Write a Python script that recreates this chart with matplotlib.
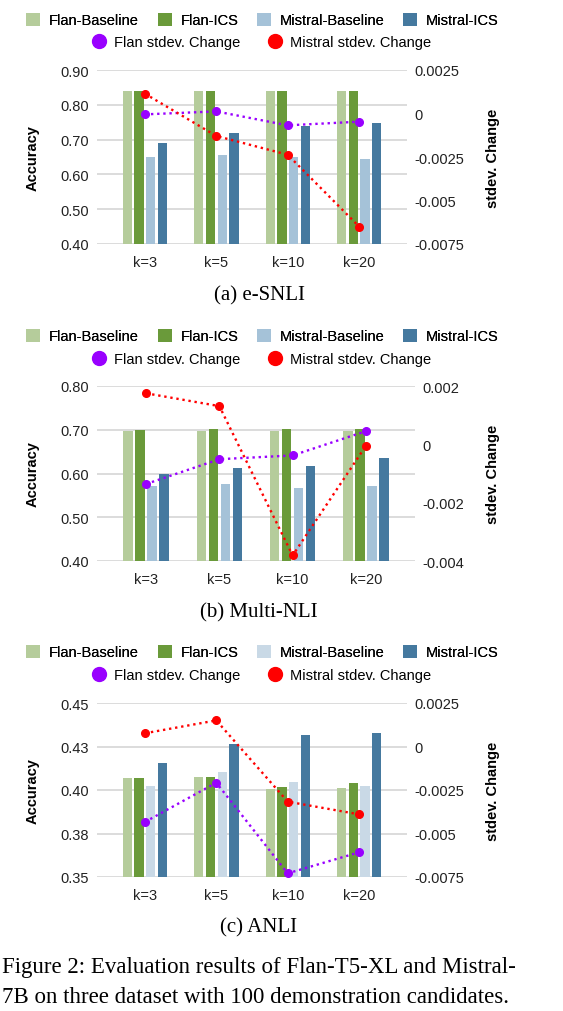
import matplotlib
matplotlib.use('Agg')
import matplotlib.pyplot as plt
from matplotlib.patches import Patch
from matplotlib.lines import Line2D
import numpy as np

plt.rcParams['font.family'] = ['Liberation Sans', 'DejaVu Sans']

# ---------------- data ----------------
ks = ['k=3', 'k=5', 'k=10', 'k=20']
series_names = ['Flan-Baseline', 'Flan-ICS', 'Mistral-Baseline', 'Mistral-ICS']
line_names = ['Flan stdev. Change', 'Mistral stdev. Change']

# (a) e-SNLI
snli_flan_base = [0.839, 0.839, 0.839, 0.839]
snli_flan_ics = [0.839, 0.839, 0.839, 0.839]
snli_mis_base = [0.651, 0.655, 0.651, 0.643]
snli_mis_ics = [0.690, 0.720, 0.738, 0.749]
snli_flan_sd = [-0.00005, 0.00012, -0.00068, -0.00047]
snli_mis_sd = [0.00114, -0.00129, -0.00237, -0.0065]
snli_left_ticks = [0.40, 0.50, 0.60, 0.70, 0.80, 0.90]
snli_left_labels = ['0.40', '0.50', '0.60', '0.70', '0.80', '0.90']
snli_right_ticks = [-0.0075, -0.005, -0.0025, 0, 0.0025]
snli_right_labels = ['-0.0075', '-0.005', '-0.0025', '0', '0.0025']

# (b) Multi-NLI
mnli_flan_base = [0.697, 0.697, 0.697, 0.697]
mnli_flan_ics = [0.700, 0.702, 0.702, 0.702]
mnli_mis_base = [0.572, 0.575, 0.567, 0.572]
mnli_mis_ics = [0.600, 0.612, 0.618, 0.635]
mnli_flan_sd = [-0.00136, -0.00051, -0.00038, 0.00045]
mnli_mis_sd = [0.00175, 0.00131, -0.00381, -0.00005]
mnli_left_ticks = [0.40, 0.50, 0.60, 0.70, 0.80]
mnli_left_labels = ['0.40', '0.50', '0.60', '0.70', '0.80']
mnli_right_ticks = [-0.004, -0.002, 0, 0.002]
mnli_right_labels = ['-0.004', '-0.002', '0', '0.002']

# (c) ANLI
anli_flan_base = [0.4067, 0.4075, 0.4004, 0.4010]
anli_flan_ics = [0.4067, 0.4075, 0.4017, 0.4038]
anli_mis_base = [0.4025, 0.4106, 0.4046, 0.4025]
anli_mis_ics = [0.4153, 0.4264, 0.4314, 0.4329]
anli_flan_sd = [-0.00434, -0.00208, -0.00729, -0.00608]
anli_mis_sd = [0.00076, 0.00150, -0.00317, -0.00390]
anli_left_ticks = [0.35, 0.375, 0.40, 0.425, 0.45]
anli_left_labels = ['0.35', '0.38', '0.40', '0.43', '0.45']
anli_right_ticks = [-0.0075, -0.005, -0.0025, 0, 0.0025]
anli_right_labels = ['-0.0075', '-0.005', '-0.0025', '0', '0.0025']

captions = ['(a) e-SNLI', '(b) Multi-NLI', '(c) ANLI']
fig_caption = ['Figure 2: Evaluation results of Flan-T5-XL and Mistral-',
               '7B on three dataset with 100 demonstration candidates.']

# ---------------- style ----------------
C_FB = '#b5cc9b'
C_FI = '#6a9a3a'
C_MB = '#a5c2d8'
C_MB_LIGHT = '#c9d9e6'
C_MI = '#45799f'
C_PURPLE = '#9900ff'
C_RED = '#ff0000'
GRID = '#d9d9d9'
FS = 10.5

W, H = 563, 1012
fig = plt.figure(figsize=(W / 100, H / 100), dpi=100)


def box(l, t, r, b):
    return [l / W, 1 - b / H, (r - l) / W, (b - t) / H]


def fx(px):
    return px / W


def fy(py):
    return 1 - py / H


def legend(row1_y, row2_y, mb_color):
    handles1 = [Patch(facecolor=c, edgecolor='none') for c in (C_FB, C_FI, mb_color, C_MI)]
    l1 = fig.legend(handles1, series_names, loc='center', bbox_to_anchor=(fx(262.5), fy(row1_y)),
                    ncol=4, frameon=False, fontsize=FS, handlelength=0.95, handleheight=1.0,
                    handletextpad=0.6, columnspacing=1.3, borderpad=0, borderaxespad=0)
    handles2 = [Line2D([], [], ls='none', marker='o', ms=10, color=c) for c in (C_PURPLE, C_RED)]
    l2 = fig.legend(handles2, line_names, loc='center', bbox_to_anchor=(fx(262), fy(row2_y)),
                    ncol=2, frameon=False, fontsize=FS, handlelength=0.9,
                    handletextpad=0.6, columnspacing=1.9, borderpad=0, borderaxespad=0)
    fig.add_artist(l1)


def panel(rect_px, fb, fi, mb, mi, fsd, msd, lt, ll, rt, rl, mb_color, caption, cap_y, leg_y):
    l, t, r, b = rect_px
    ax = fig.add_axes(box(l, t, r, b))
    x = np.arange(len(ks))
    w = 0.13
    pitch = 0.164
    for i, (vals, col) in enumerate(zip((fb, fi, mb, mi), (C_FB, C_FI, mb_color, C_MI))):
        ax.bar(x + (i - 1.5) * pitch, vals, width=w, color=col, zorder=2)
    ax.set_xlim(-0.67, 3.67)
    ax.set_ylim(lt[0], lt[-1])
    ax.set_yticks(lt)
    ax.set_yticklabels(ll)
    ax.set_xticks(x)
    ax.set_xticklabels(ks)
    ax.grid(axis='y', color=GRID, lw=1.3, zorder=0)
    ax.set_axisbelow(True)
    for s in ax.spines.values():
        s.set_visible(False)
    ax.tick_params(axis='both', length=0, labelsize=FS, colors='#222222')
    ax.tick_params(axis='y', pad=6)
    ax.tick_params(axis='x', pad=8)

    ax2 = ax.twinx()
    ax2.set_ylim(rt[0], rt[-1])
    ax2.set_yticks(rt)
    ax2.set_yticklabels(rl)
    for s in ax2.spines.values():
        s.set_visible(False)
    ax2.tick_params(axis='y', length=0, labelsize=FS, pad=5, colors='#222222')
    ax2.plot(x, fsd, color=C_PURPLE, ls=(0, (1, 1.6)), lw=1.7, marker='o', ms=5.5, zorder=3)
    ax2.plot(x, msd, color=C_RED, ls=(0, (1, 1.6)), lw=1.7, marker='o', ms=5.5, zorder=3)

    yc = (t + b) / 2
    fig.text(fx(33), fy(yc), 'Accuracy', rotation=90, ha='center', va='center',
             fontsize=FS, fontweight='bold')
    fig.text(fx(493), fy(yc), 'stdev. Change', rotation=90, ha='center', va='center',
             fontsize=FS, fontweight='bold')
    fig.text(fx(259), fy(cap_y), caption, ha='center', va='center', fontsize=15,
             family=['Liberation Serif', 'DejaVu Serif'])
    legend(leg_y[0], leg_y[1], mb_color)


panel((97, 71, 407, 245), snli_flan_base, snli_flan_ics, snli_mis_base, snli_mis_ics,
      snli_flan_sd, snli_mis_sd, snli_left_ticks, snli_left_labels,
      snli_right_ticks, snli_right_labels, C_MB, captions[0], 296, (21, 43))
panel((97, 387, 415, 562), mnli_flan_base, mnli_flan_ics, mnli_mis_base, mnli_mis_ics,
      mnli_flan_sd, mnli_mis_sd, mnli_left_ticks, mnli_left_labels,
      mnli_right_ticks, mnli_right_labels, C_MB, captions[1], 613, (337, 360))
panel((97, 704, 407, 878), anli_flan_base, anli_flan_ics, anli_mis_base, anli_mis_ics,
      anli_flan_sd, anli_mis_sd, anli_left_ticks, anli_left_labels,
      anli_right_ticks, anli_right_labels, C_MB_LIGHT, captions[2], 928, (653, 676))

fig.text(fx(2), fy(968), fig_caption[0], ha='left', va='center', fontsize=16.5,
         family=['Liberation Serif', 'DejaVu Serif'])
fig.text(fx(2), fy(998), fig_caption[1], ha='left', va='center', fontsize=16.5,
         family=['Liberation Serif', 'DejaVu Serif'])

fig.savefig('out.png', dpi=100)
